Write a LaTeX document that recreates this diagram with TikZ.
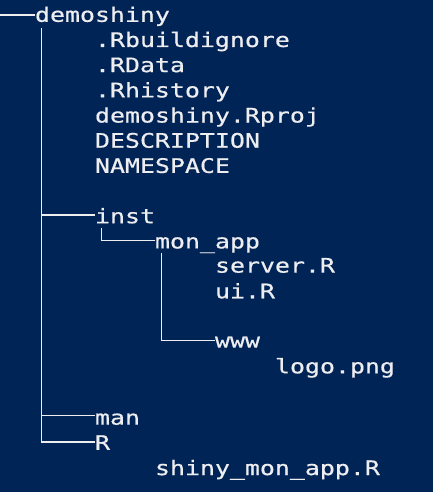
\documentclass[tikz,border=0pt]{standalone}
\usepackage{fontspec}
\newfontfamily\consolefont[FakeStretch=1.245,FakeBold=0.6]{DejaVu Sans Mono}
\definecolor{psbg}{RGB}{1,36,86}
\definecolor{psfg}{RGB}{238,237,240}
\begin{document}
\begin{tikzpicture}[x=1pt,y=1pt,
  entry/.style={anchor=base west,inner sep=0pt,outer sep=0pt,text=psfg,
    font=\consolefont\fontsize{20}{24}\selectfont},
  tree/.style={draw=psfg,line width=1.5pt}]
\fill[psbg] (0,0) rectangle (433,-492);
\useasboundingbox (0,0) rectangle (433,-492);
% entries (row r baseline at 21.8 + 25.18 r)
\node[entry] (demoshiny) at (35,{-21.8}) {demoshiny};
\node[entry] (rbuild)    at (95,{-(21.8+25.18*1)}) {.Rbuildignore};
\node[entry] (rdata)     at (95,{-(21.8+25.18*2)}) {.RData};
\node[entry] (rhist)     at (95,{-(21.8+25.18*3)}) {.Rhistory};
\node[entry] (rproj)     at (95,{-(21.8+25.18*4)}) {demoshiny.Rproj};
\node[entry] (desc)      at (95,{-(21.8+25.18*5)}) {DESCRIPTION};
\node[entry] (nspace)    at (95,{-(21.8+25.18*6)}) {NAMESPACE};
\node[entry] (inst)      at (95,{-(21.8+25.18*8)}) {inst};
\node[entry] (monapp)    at (155,{-(21.8+25.18*9)}) {mon\_app};
\node[entry] (server)    at (215,{-(21.8+25.18*10)+1}) {server.R};
\node[entry] (ui)        at (215,{-(21.8+25.18*11)+0.5}) {ui.R};
\node[entry] (www)       at (215,{-(21.8+25.18*13)+1.5}) {www};
\node[entry] (logo)      at (275,{-(21.8+25.18*14)+1}) {logo.png};
\node[entry] (man)       at (95,{-(21.8+25.18*16)}) {man};
\node[entry] (R)         at (95,{-(21.8+25.18*17)}) {R};
\node[entry] (shinyapp)  at (155,{-(21.8+25.18*18)}) {shiny\_mon\_app.R};
% joints
\coordinate (edge)  at (0,0);
\coordinate (trunk) at ([xshift=6.7pt]demoshiny.base west);
\coordinate (rootj) at ([yshift=7pt]demoshiny.base west);
\coordinate (instj) at ([yshift=8pt]inst.base west);
\coordinate (manj)  at ([yshift=9pt]man.base west);
\coordinate (Rj)    at ([yshift=8pt]R.base west);
\coordinate (monj)  at ([yshift=7.8pt]monapp.base west);
\coordinate (wwwj)  at ([yshift=7pt]www.base west);
% connectors
\draw[tree] (edge |- rootj) -- (rootj);
\draw[tree] ([yshift=-6pt]trunk) |- (Rj);
\draw[tree] (trunk |- instj) -- (instj);
\draw[tree] (trunk |- manj) -- (manj);
\draw[tree] ([xshift=6.3pt,yshift=-4.7pt]inst.base west) |- (monj);
\draw[tree] ([xshift=6.7pt,yshift=-4.4pt]monapp.base west) |- (wwwj);
\end{tikzpicture}
\end{document}
